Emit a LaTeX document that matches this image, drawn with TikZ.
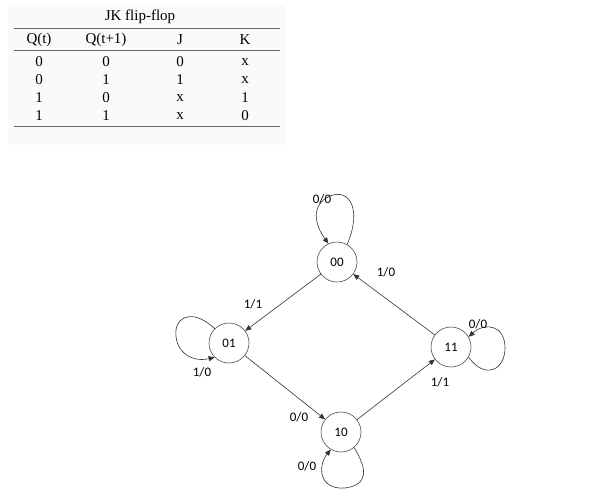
\documentclass[tikz,border=0pt]{standalone}
\usepackage{fontspec}
\setmainfont{Liberation Serif}
\newfontfamily\diag{Carlito}
\usetikzlibrary{arrows.meta}
\begin{document}
\begin{tikzpicture}[x=1pt,y=-1pt,
  st/.style={circle,draw=black!70,line width=0.6pt,minimum size=40pt,inner sep=0pt,font=\diag\fontsize{13}{14}\selectfont},
  lb/.style={font=\diag\fontsize{13}{14}\selectfont,inner sep=0pt},
  tb/.style={font=\fontsize{15}{16}\selectfont,inner sep=0pt},
  edge/.style={draw=black!80,line width=0.6pt,-{Triangle[length=6pt,width=5pt]}}]
\useasboundingbox (0,0) rectangle (603,498);
\fill[black!2] (8,5) rectangle (285,145);
% table
\node[tb] (title) at (140,17) {JK flip-flop};
\draw[line width=1pt,black!60] (14,28) -- (280,28);
\draw[line width=0.5pt,black!60] (14,50) -- (280,50);
\draw[line width=1pt,black!60] (14,126) -- (280,126);
\foreach \x/\a/\b/\c/\d/\e [count=\i] in {39/Q(t)/0/0/1/1,106/Q(t+1)/0/1/0/1,180/J/0/1/x/x,245/K/x/x/1/0}{
  \node[tb] (h\i) at (\x,40) {\a};
  \node[tb] (r1c\i) at (\x,62) {\b};
  \node[tb] (r2c\i) at (\x,80) {\c};
  \node[tb] (r3c\i) at (\x,98) {\d};
  \node[tb] (r4c\i) at (\x,116) {\e};
}
% states
\node[st] (s00) at (337,262) {00};
\node[st] (s01) at (229,343) {01};
\node[st] (s11) at (451,347) {11};
\node[st] (s10) at (341,432) {10};
\draw[edge] (s00) -- (s01);
\draw[edge] (s01) -- (s10);
\draw[edge] (s10) -- (s11);
\draw[edge] (s11) -- (s00);
\draw[edge] (s00.60) .. controls (362,210) and (350,188) .. (330,196) .. controls (310,205) and (315,225) .. (s00.115);
\draw[edge] (s01.135) .. controls (195,310) and (178,315) .. (176,330) .. controls (174,350) and (190,363) .. (s01.225);
\draw[edge] (s11.-30) .. controls (485,380) and (505,370) .. (505,348) .. controls (505,325) and (485,322) .. (s11.30);
\draw[edge] (s10.-50) .. controls (368,470) and (368,485) .. (345,488) .. controls (318,490) and (318,465) .. (s10.-120);
\node[lb] (l1) at (322,199) {0/0};
\node[lb] (l2) at (253,304) {1/1};
\node[lb] (l3) at (386,272) {1/0};
\node[lb] (l4) at (478,324) {0/0};
\node[lb] (l5) at (202,372) {1/0};
\node[lb] (l6) at (440,382) {1/1};
\node[lb] (l7) at (299,417) {0/0};
\node[lb] (l8) at (307,466) {0/0};
\end{tikzpicture}
\end{document}
